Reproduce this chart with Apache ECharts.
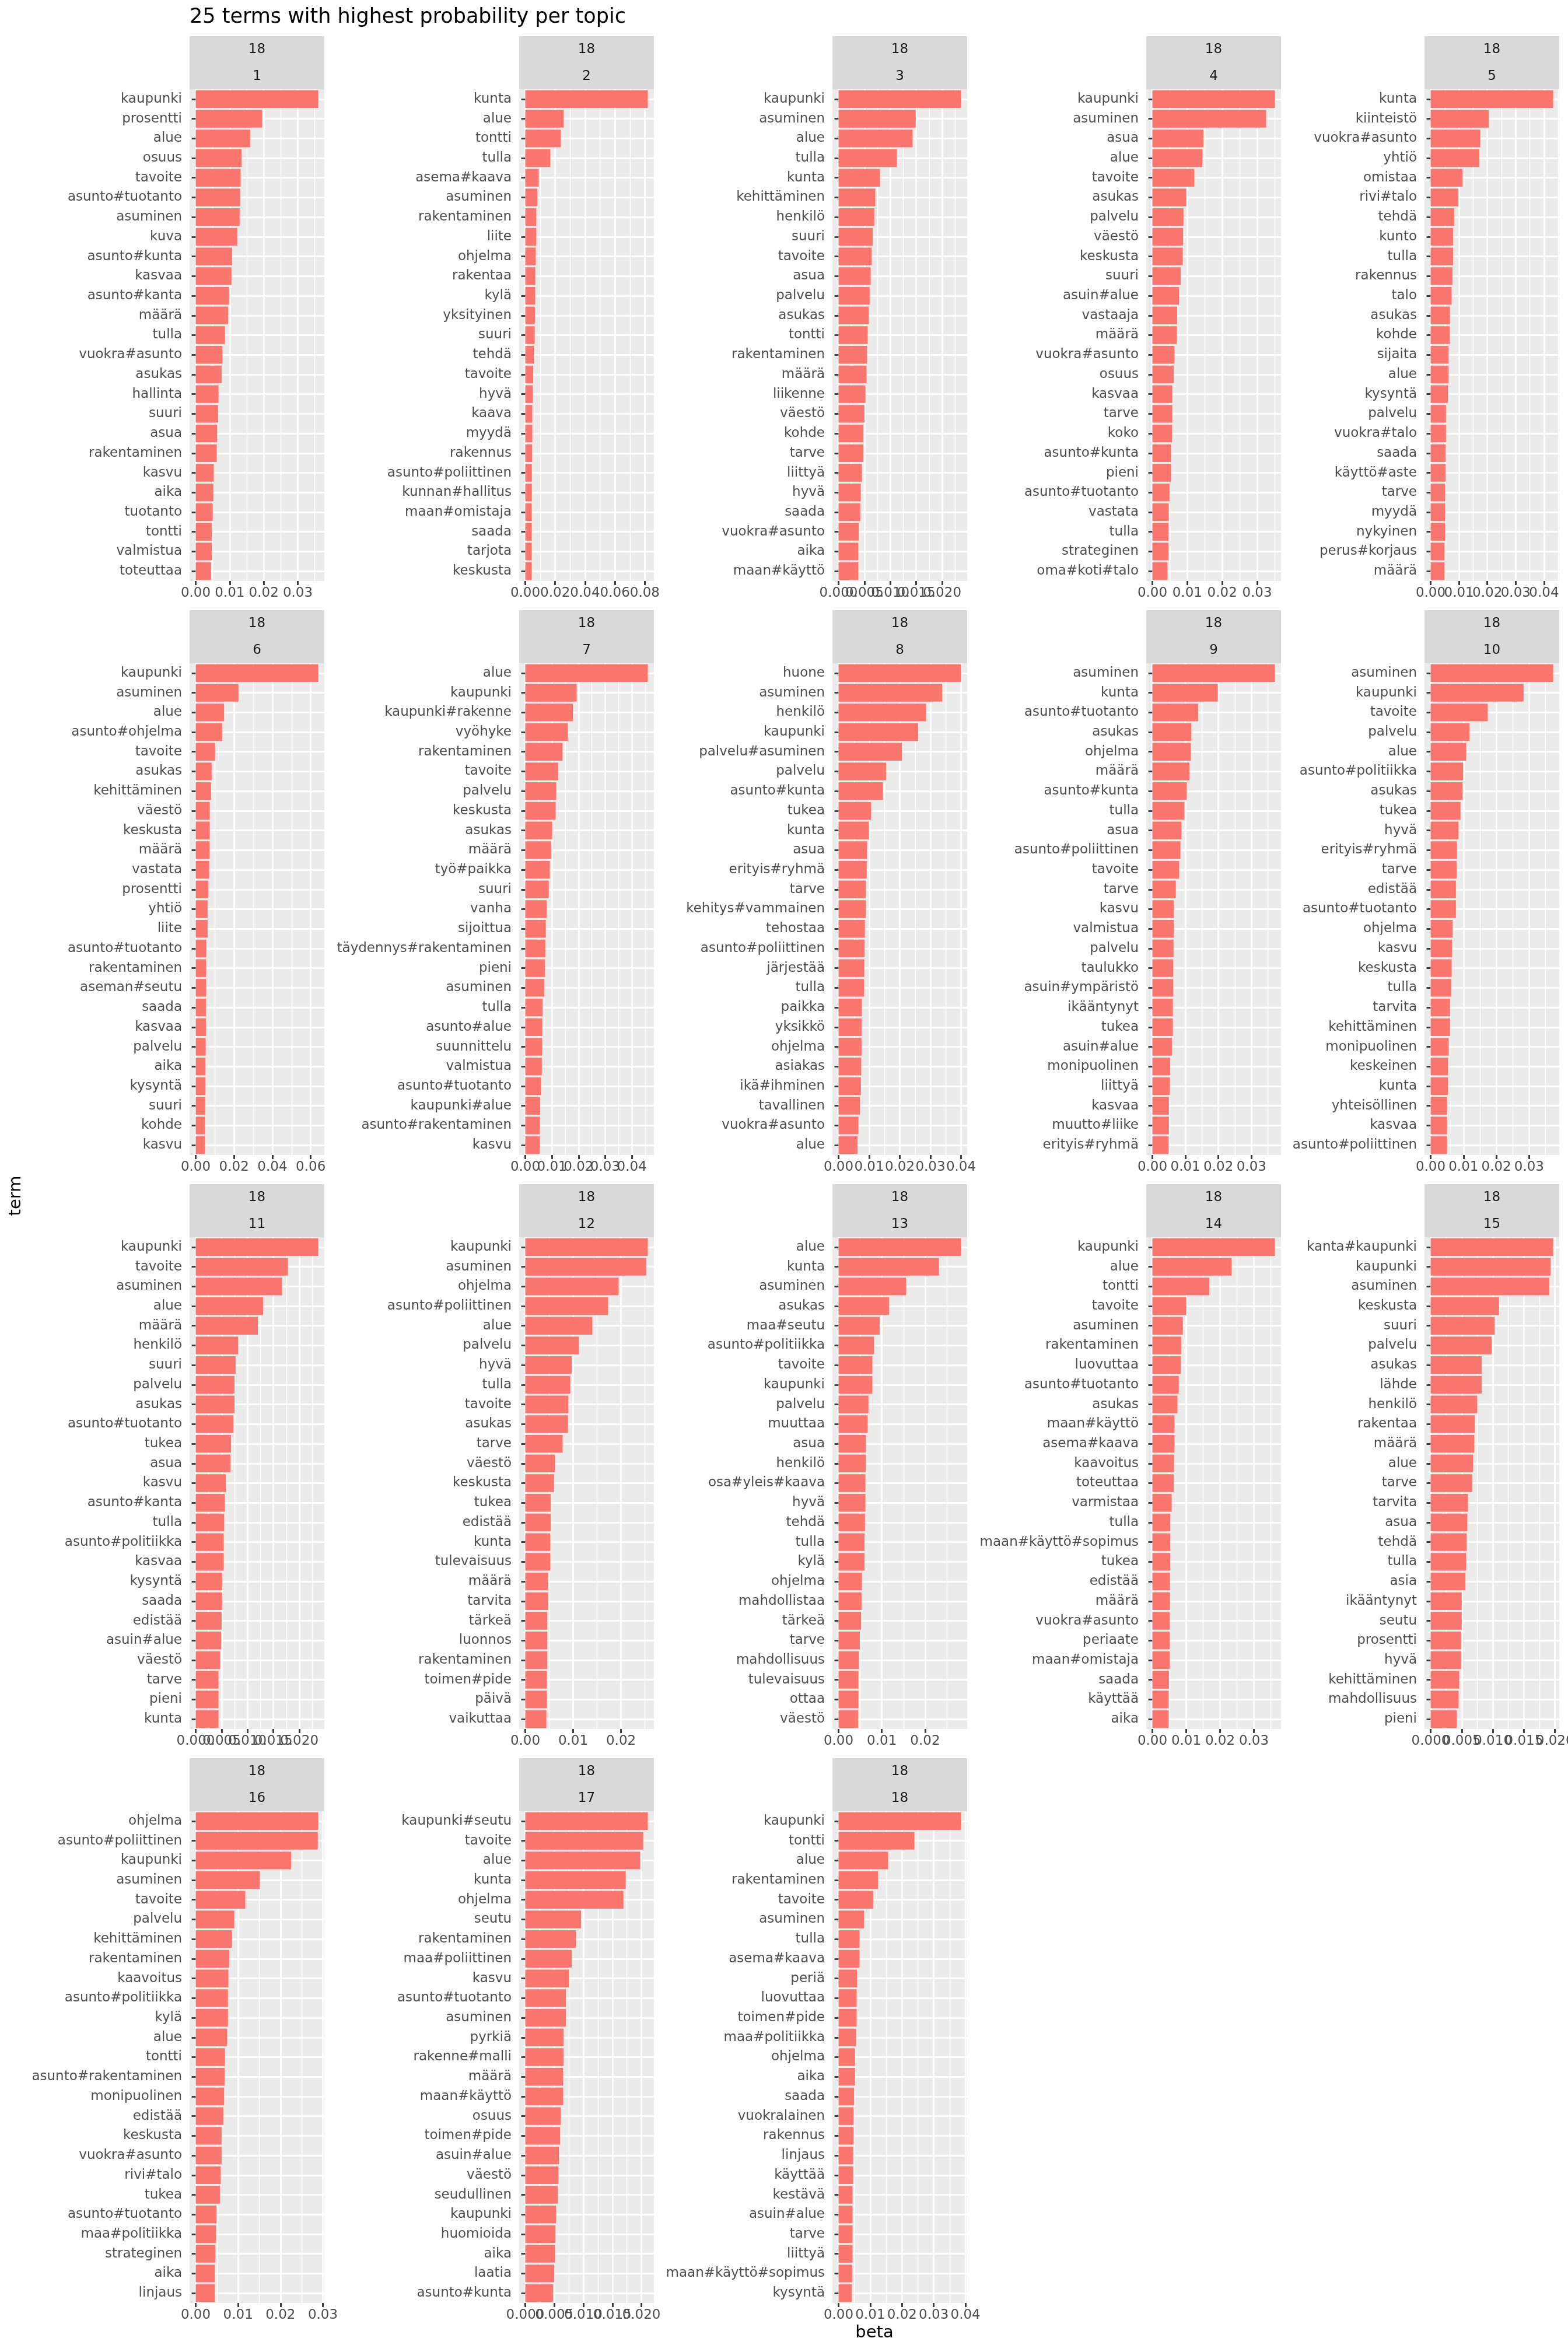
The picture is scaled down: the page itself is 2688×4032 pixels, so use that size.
<!DOCTYPE html>
<html>
<head>
<meta charset="utf-8">
<script src="https://cdn.jsdelivr.net/npm/echarts@6/dist/echarts.min.js"></script>
<style>
html,body{margin:0;padding:0;background:#fff;}
#chart{width:2688px;height:4032px;}
</style>
</head>
<body>
<div id="chart"></div>
<script>
// ---------------- DATA ----------------
const kValue = 18;
const topicIds = [1,2,3,4,5,6,7,8,9,10,11,12,13,14,15,16,17,18];

const t1_terms = ["kaupunki","prosentti","alue","osuus","tavoite","asunto#tuotanto","asuminen","kuva","asunto#kunta","kasvaa","asunto#kanta","määrä","tulla","vuokra#asunto","asukas","hallinta","suuri","asua","rakentaminen","kasvu","aika","tuotanto","tontti","valmistua","toteuttaa"];
const t1_beta  = [0.0360,0.0195,0.0160,0.0135,0.0132,0.0131,0.0129,0.0122,0.0107,0.0105,0.0098,0.0095,0.0086,0.0078,0.0076,0.0067,0.0066,0.0063,0.0062,0.0053,0.0052,0.0050,0.0047,0.0047,0.0045];

const t2_terms = ["kunta","alue","tontti","tulla","asema#kaava","asuminen","rakentaminen","liite","ohjelma","rakentaa","kylä","yksityinen","suuri","tehdä","tavoite","hyvä","kaava","myydä","rakennus","asunto#poliittinen","kunnan#hallitus","maan#omistaja","saada","tarjota","keskusta"];
const t2_beta  = [0.0820,0.0257,0.0237,0.0167,0.0090,0.0080,0.0073,0.0073,0.0070,0.0067,0.0066,0.0064,0.0063,0.0057,0.0053,0.0050,0.0047,0.0047,0.0046,0.0044,0.0044,0.0043,0.0043,0.0043,0.0043];

const t3_terms = ["kaupunki","asuminen","alue","tulla","kunta","kehittäminen","henkilö","suuri","tavoite","asua","palvelu","asukas","tontti","rakentaminen","määrä","liikenne","väestö","kohde","tarve","liittyä","hyvä","saada","vuokra#asunto","aika","maan#käyttö"];
const t3_beta  = [0.02365,0.0149,0.0143,0.01125,0.0080,0.0071,0.0069,0.0066,0.0064,0.0062,0.0060,0.0058,0.0056,0.0055,0.0054,0.0052,0.0050,0.0048,0.0048,0.0045,0.0043,0.0042,0.0039,0.0038,0.0038];

const t4_terms = ["kaupunki","asuminen","asua","alue","tavoite","asukas","palvelu","väestö","keskusta","suuri","asuin#alue","vastaaja","määrä","vuokra#asunto","osuus","kasvaa","tarve","koko","asunto#kunta","pieni","asunto#tuotanto","vastata","tulla","strateginen","oma#koti#talo"];
const t4_beta  = [0.0351,0.0326,0.0146,0.0143,0.0120,0.0097,0.0089,0.0088,0.0087,0.0081,0.0076,0.0071,0.0070,0.0063,0.0061,0.0057,0.0057,0.0056,0.0053,0.0053,0.0049,0.0047,0.0046,0.0046,0.0043];

const t5_terms = ["kunta","kiinteistö","vuokra#asunto","yhtiö","omistaa","rivi#talo","tehdä","kunto","tulla","rakennus","talo","asukas","kohde","sijaita","alue","kysyntä","palvelu","vuokra#talo","saada","käyttö#aste","tarve","myydä","nykyinen","perus#korjaus","määrä"];
const t5_beta  = [0.0432,0.0205,0.0175,0.0172,0.0112,0.0098,0.0083,0.0079,0.0079,0.0077,0.0074,0.0068,0.0067,0.0063,0.0063,0.0061,0.0054,0.0054,0.0053,0.0053,0.0051,0.0051,0.0051,0.0049,0.0049];

const t6_terms = ["kaupunki","asuminen","alue","asunto#ohjelma","tavoite","asukas","kehittäminen","väestö","keskusta","määrä","vastata","prosentti","yhtiö","liite","asunto#tuotanto","rakentaminen","aseman#seutu","saada","kasvaa","palvelu","aika","kysyntä","suuri","kohde","kasvu"];
const t6_beta  = [0.0639,0.0223,0.0148,0.0138,0.0101,0.0083,0.0080,0.0073,0.0073,0.0072,0.0070,0.0065,0.0062,0.0062,0.0055,0.0054,0.0054,0.0053,0.0053,0.0052,0.0051,0.0051,0.0050,0.0047,0.0047];

const t7_terms = ["alue","kaupunki","kaupunki#rakenne","vyöhyke","rakentaminen","tavoite","palvelu","keskusta","asukas","määrä","työ#paikka","suuri","vanha","sijoittua","täydennys#rakentaminen","pieni","asuminen","tulla","asunto#alue","suunnittelu","valmistua","asunto#tuotanto","kaupunki#alue","asunto#rakentaminen","kasvu"];
const t7_beta  = [0.0460,0.0193,0.0179,0.0159,0.0140,0.0123,0.0116,0.0114,0.0101,0.0097,0.0092,0.0088,0.0080,0.0077,0.0075,0.0074,0.0071,0.0065,0.0064,0.0063,0.0062,0.0058,0.0056,0.0054,0.0054];

const t8_terms = ["huone","asuminen","henkilö","kaupunki","palvelu#asuminen","palvelu","asunto#kunta","tukea","kunta","asua","erityis#ryhmä","tarve","kehitys#vammainen","tehostaa","asunto#poliittinen","järjestää","tulla","paikka","yksikkö","ohjelma","asiakas","ikä#ihminen","tavallinen","vuokra#asunto","alue"];
const t8_beta  = [0.0400,0.0338,0.0286,0.0260,0.0207,0.0155,0.0145,0.0106,0.0099,0.0093,0.0092,0.0089,0.0089,0.0086,0.0085,0.0084,0.0083,0.0076,0.0075,0.0075,0.0074,0.0073,0.0070,0.0065,0.0062];

const t9_terms = ["asuminen","kunta","asunto#tuotanto","asukas","ohjelma","määrä","asunto#kunta","tulla","asua","asunto#poliittinen","tavoite","tarve","kasvu","valmistua","palvelu","taulukko","asuin#ympäristö","ikääntynyt","tukea","asuin#alue","monipuolinen","liittyä","kasvaa","muutto#liike","erityis#ryhmä"];
const t9_beta  = [0.0371,0.0198,0.0139,0.0118,0.0116,0.0112,0.0104,0.0097,0.0088,0.0085,0.0081,0.0071,0.0065,0.0065,0.0064,0.0063,0.0063,0.0062,0.0062,0.0059,0.0054,0.0053,0.0050,0.0050,0.0049];

const t10_terms = ["asuminen","kaupunki","tavoite","palvelu","alue","asunto#politiikka","asukas","tukea","hyvä","erityis#ryhmä","tarve","edistää","asunto#tuotanto","ohjelma","kasvu","keskusta","tulla","tarvita","kehittäminen","monipuolinen","keskeinen","kunta","yhteisöllinen","kasvaa","asunto#poliittinen"];
const t10_beta  = [0.0373,0.0283,0.0174,0.0118,0.0108,0.0099,0.0097,0.0091,0.0085,0.0080,0.0079,0.0077,0.0077,0.0067,0.0065,0.0064,0.0063,0.0059,0.0059,0.0055,0.0053,0.0053,0.0050,0.0050,0.0050];

const t11_terms = ["kaupunki","tavoite","asuminen","alue","määrä","henkilö","suuri","palvelu","asukas","asunto#tuotanto","tukea","asua","kasvu","asunto#kanta","tulla","asunto#politiikka","kasvaa","kysyntä","saada","edistää","asuin#alue","väestö","tarve","pieni","kunta"];
const t11_beta  = [0.02365,0.0178,0.0167,0.0130,0.0120,0.0082,0.0077,0.0075,0.0075,0.0073,0.0068,0.0067,0.0058,0.0056,0.0055,0.0054,0.0054,0.0051,0.0051,0.0050,0.0049,0.0047,0.0044,0.0044,0.0044];

const t12_terms = ["kaupunki","asuminen","ohjelma","asunto#poliittinen","alue","palvelu","hyvä","tulla","tavoite","asukas","tarve","väestö","keskusta","tukea","edistää","kunta","tulevaisuus","määrä","tarvita","tärkeä","luonnos","rakentaminen","toimen#pide","päivä","vaikuttaa"];
const t12_beta  = [0.0256,0.0253,0.0195,0.0173,0.0140,0.0112,0.0097,0.0094,0.0090,0.0089,0.0078,0.0062,0.0060,0.0053,0.0053,0.0052,0.0052,0.0047,0.0047,0.0046,0.0046,0.0046,0.0045,0.0045,0.0044];

const t13_terms = ["alue","kunta","asuminen","asukas","maa#seutu","asunto#politiikka","tavoite","kaupunki","palvelu","muuttaa","asua","henkilö","osa#yleis#kaava","hyvä","tehdä","tulla","kylä","ohjelma","mahdollistaa","tärkeä","tarve","mahdollisuus","tulevaisuus","ottaa","väestö"];
const t13_beta  = [0.0283,0.0232,0.0156,0.0117,0.0095,0.0082,0.0078,0.0078,0.0069,0.0067,0.0063,0.0063,0.0062,0.0062,0.0061,0.0060,0.0060,0.0054,0.0053,0.0052,0.0049,0.0047,0.0046,0.0046,0.0045];

const t14_terms = ["kaupunki","alue","tontti","tavoite","asuminen","rakentaminen","luovuttaa","asunto#tuotanto","asukas","maan#käyttö","asema#kaava","kaavoitus","toteuttaa","varmistaa","tulla","maan#käyttö#sopimus","tukea","edistää","määrä","vuokra#asunto","periaate","maan#omistaja","saada","käyttää","aika"];
const t14_beta  = [0.0362,0.0234,0.0168,0.0100,0.0090,0.0085,0.0084,0.0078,0.0074,0.0065,0.0065,0.0064,0.0063,0.0057,0.0053,0.0053,0.0053,0.0052,0.0052,0.0051,0.0051,0.0051,0.0049,0.0048,0.0048];

const t15_terms = ["kanta#kaupunki","kaupunki","asuminen","keskusta","suuri","palvelu","asukas","lähde","henkilö","rakentaa","määrä","alue","tarve","tarvita","asua","tehdä","tulla","asia","ikääntynyt","seutu","prosentti","hyvä","kehittäminen","mahdollisuus","pieni"];
const t15_beta  = [0.0197,0.0193,0.0191,0.0110,0.0103,0.0098,0.0082,0.0082,0.0075,0.0071,0.0070,0.0068,0.0067,0.0060,0.0059,0.0058,0.0057,0.0056,0.0050,0.0050,0.0049,0.0049,0.0046,0.0045,0.0042];

const t16_terms = ["ohjelma","asunto#poliittinen","kaupunki","asuminen","tavoite","palvelu","kehittäminen","rakentaminen","kaavoitus","asunto#politiikka","kylä","alue","tontti","asunto#rakentaminen","monipuolinen","edistää","keskusta","vuokra#asunto","rivi#talo","tukea","asunto#tuotanto","maa#politiikka","strateginen","aika","linjaus"];
const t16_beta  = [0.0289,0.0288,0.0225,0.0151,0.0117,0.0091,0.0085,0.0079,0.0077,0.0076,0.0076,0.0074,0.0069,0.0068,0.0067,0.0065,0.0061,0.0061,0.0059,0.0057,0.0049,0.0048,0.0046,0.0045,0.0045];

const t17_terms = ["kaupunki#seutu","tavoite","alue","kunta","ohjelma","seutu","rakentaminen","maa#poliittinen","kasvu","asunto#tuotanto","asuminen","pyrkiä","rakenne#malli","määrä","maan#käyttö","osuus","toimen#pide","asuin#alue","väestö","seudullinen","kaupunki","huomioida","aika","laatia","asunto#kunta"];
const t17_beta  = [0.0211,0.0203,0.0198,0.0173,0.0169,0.0096,0.0087,0.0080,0.0075,0.0070,0.0070,0.0066,0.0066,0.0065,0.0065,0.0061,0.0060,0.0058,0.0057,0.0056,0.0053,0.0052,0.0051,0.0050,0.0048];

const t18_terms = ["kaupunki","tontti","alue","rakentaminen","tavoite","asuminen","tulla","asema#kaava","periä","luovuttaa","toimen#pide","maa#politiikka","ohjelma","aika","saada","vuokralainen","rakennus","linjaus","käyttää","kestävä","asuin#alue","tarve","liittyä","maan#käyttö#sopimus","kysyntä"];
const t18_beta  = [0.0386,0.0239,0.0156,0.0124,0.0109,0.0080,0.0066,0.0066,0.0058,0.0057,0.0057,0.0055,0.0052,0.0052,0.0049,0.0047,0.0047,0.0046,0.0046,0.0044,0.0044,0.0044,0.0044,0.0043,0.0042];

// major tick spacing of each facet's beta axis
const tickStep = [0.01,0.02,0.005,0.01,0.01, 0.02,0.01,0.01,0.01,0.01, 0.005,0.01,0.01,0.01,0.005, 0.01,0.005,0.01];

const termLists = [t1_terms,t2_terms,t3_terms,t4_terms,t5_terms,t6_terms,t7_terms,t8_terms,t9_terms,t10_terms,t11_terms,t12_terms,t13_terms,t14_terms,t15_terms,t16_terms,t17_terms,t18_terms];
const betaLists = [t1_beta,t2_beta,t3_beta,t4_beta,t5_beta,t6_beta,t7_beta,t8_beta,t9_beta,t10_beta,t11_beta,t12_beta,t13_beta,t14_beta,t15_beta,t16_beta,t17_beta,t18_beta];

// ---------------- LAYOUT ----------------
const FONT = 'DejaVu Sans';
const colLeft = [325, 890, 1427, 1965, 2442];
const panelW = 231;
const rowTop0 = 62, rowPitch = 984, stripH = 91, panelH = 843;

const r6 = v => Math.round(v * 1e7) / 1e7;

const grids = [], xAxes = [], yAxes = [], series = [], graphics = [];

topicIds.forEach((tid, i) => {
  const col = i % 5, row = Math.floor(i / 5);
  const left = colLeft[col];
  const stripTop = rowTop0 + row * rowPitch;
  const top = stripTop + stripH;
  const beta = betaLists[i], terms = termLists[i];
  const dmax = Math.max.apply(null, beta);
  const lo = -0.05 * dmax, hi = 1.05 * dmax;
  const step = tickStep[i];
  const dec = Math.max(0, Math.round(-Math.log10(step) + (String(step).endsWith('5') ? 1 : 0)));
  const majors = [], minors = [];
  for (let k = 0; k * step <= hi + 1e-12; k++) majors.push(r6(k * step));
  for (let k = 0; (k + 0.5) * step <= hi; k++) minors.push(r6((k + 0.5) * step));
  const majorsEven = majors.filter((v, j) => j % 2 === 0);
  const majorsOdd = majors.filter((v, j) => j % 2 === 1);
  const labelBase = {show: true, formatter: v => Number(v).toFixed(dec),
      interval: 0, showMinLabel: true, showMaxLabel: true, hideOverlap: false,
      fontFamily: FONT, fontSize: 23, color: '#4D4D4D', margin: 10};

  grids.push({left: left, top: top, width: panelW, height: panelH, show: true,
    backgroundColor: '#EBEBEB', borderWidth: 0, containLabel: false, outerBoundsMode: 'none'});

  xAxes.push({
    type: 'value', gridIndex: i, min: lo, max: hi, position: 'bottom',
    axisLine: {show: false},
    axisTick: {show: true, customValues: majors, length: 7, lineStyle: {color: '#333333', width: 2.8}},
    axisLabel: Object.assign({customValues: majorsEven}, labelBase),
    splitLine: {show: true, lineStyle: {color: '#FFFFFF', width: 2.8}}
  });
  xAxes.push({
    type: 'value', gridIndex: i, min: lo, max: hi, position: 'bottom',
    axisLine: {show: false},
    axisTick: {show: false, customValues: minors},
    axisLabel: Object.assign({customValues: majorsOdd}, labelBase, {show: majorsOdd.length > 0}),
    splitLine: {show: true, lineStyle: {color: '#FFFFFF', width: 1.4}}
  });

  yAxes.push({
    type: 'category', gridIndex: i, data: terms, inverse: true,
    axisLine: {show: false},
    axisTick: {show: true, alignWithLabel: true, interval: 0, length: 7, lineStyle: {color: '#333333', width: 2.8}},
    axisLabel: {interval: 0, fontFamily: FONT, fontSize: 23, color: '#4D4D4D', margin: 13,
      showMinLabel: true, showMaxLabel: true, hideOverlap: false},
    splitLine: {show: true, alignWithLabel: true, interval: 0, lineStyle: {color: '#FFFFFF', width: 2.8}}
  });

  series.push({
    type: 'bar', xAxisIndex: 2 * i, yAxisIndex: i, data: beta,
    barCategoryGap: '10%', itemStyle: {color: '#F8766D'}, silent: true
  });

  graphics.push({type: 'rect', silent: true, shape: {x: left, y: stripTop, width: panelW, height: stripH}, style: {fill: '#D9D9D9'}});
  graphics.push({type: 'text', silent: true, x: left + panelW / 2, y: stripTop + 23,
    style: {text: String(kValue), font: '23px "' + FONT + '"', fill: '#1A1A1A', align: 'center', verticalAlign: 'middle'}});
  graphics.push({type: 'text', silent: true, x: left + panelW / 2, y: stripTop + 69,
    style: {text: String(tid), font: '23px "' + FONT + '"', fill: '#1A1A1A', align: 'center', verticalAlign: 'middle'}});
});

graphics.push({type: 'text', silent: true, x: 325, y: 30,
  style: {text: '25 terms with highest probability per topic', font: '35px "' + FONT + '"', fill: '#000000', align: 'left', verticalAlign: 'middle'}});
graphics.push({type: 'text', silent: true, x: 1499, y: 3999,
  style: {text: 'beta', font: '29px "' + FONT + '"', fill: '#000000', align: 'center', verticalAlign: 'middle'}});
graphics.push({type: 'text', silent: true, x: 27, y: 2050, rotation: Math.PI / 2,
  style: {text: 'term', font: '29px "' + FONT + '"', fill: '#000000', align: 'center', verticalAlign: 'middle'}});

const chart = echarts.init(document.getElementById('chart'), null, {renderer: 'canvas'});
chart.setOption({
  backgroundColor: '#FFFFFF',
  animation: false,
  textStyle: {fontFamily: FONT},
  grid: grids,
  xAxis: xAxes,
  yAxis: yAxes,
  series: series,
  graphic: graphics
});
</script>
</body>
</html>
